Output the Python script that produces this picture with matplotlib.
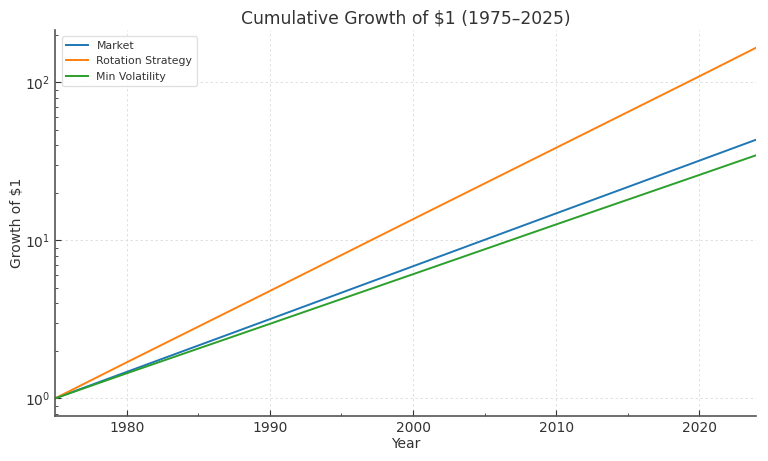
import matplotlib
matplotlib.use("Agg")
import matplotlib.pyplot as plt

# values at each decade mark
years = [1975, 1980, 1990, 2000, 2010, 2020, 2024]
market = [1.0, 1.47, 3.17, 6.85, 14.8, 31.9, 43.4]
rotation = [1.0, 1.69, 4.78, 13.6, 38.5, 109.0, 166.0]
min_vol = [1.0, 1.44, 2.96, 6.1, 12.6, 25.9, 34.6]

plt.rcParams.update({
    "font.family": "DejaVu Sans",
    "text.color": "#333333",
    "axes.labelcolor": "#333333",
    "xtick.color": "#333333",
    "ytick.color": "#333333",
    "axes.edgecolor": "#555555",
})

fig, ax = plt.subplots(figsize=(7.68, 4.61), dpi=100)
ax.plot(years, market, color="#1f77b4", linewidth=1.4, label="Market")
ax.plot(years, rotation, color="#ff7f0e", linewidth=1.4, label="Rotation Strategy")
ax.plot(years, min_vol, color="#2ca02c", linewidth=1.4, label="Min Volatility")

ax.set_yscale("log")
ax.set_xlim(1975, 2024)
ax.set_title("Cumulative Growth of \\$1 (1975–2025)", fontsize=12.3, pad=5)
ax.set_xlabel("Year", fontsize=10, labelpad=1.5)
ax.set_ylabel("Growth of \\$1", fontsize=10, labelpad=1)
ax.grid(True, which="major", linestyle=(0, (3, 3)), color="#dcdcdc", linewidth=0.6)
ax.tick_params(which="both", direction="in", labelsize=10)
ax.tick_params(which="major", length=4)
ax.tick_params(which="minor", length=2)
ax.set_xticks([1985, 1995, 2005, 2015], minor=True)
for side in ("top", "right"):
    ax.spines[side].set_visible(False)
ax.spines["left"].set_linewidth(1.2)
ax.spines["bottom"].set_linewidth(1.2)

ax.legend(loc="upper left", fontsize=7.8, frameon=True, framealpha=0.9,
          edgecolor="#dddddd", borderaxespad=0.6)

fig.subplots_adjust(left=0.072, right=0.985, top=0.935, bottom=0.098)
fig.savefig("out.png", dpi=100)
